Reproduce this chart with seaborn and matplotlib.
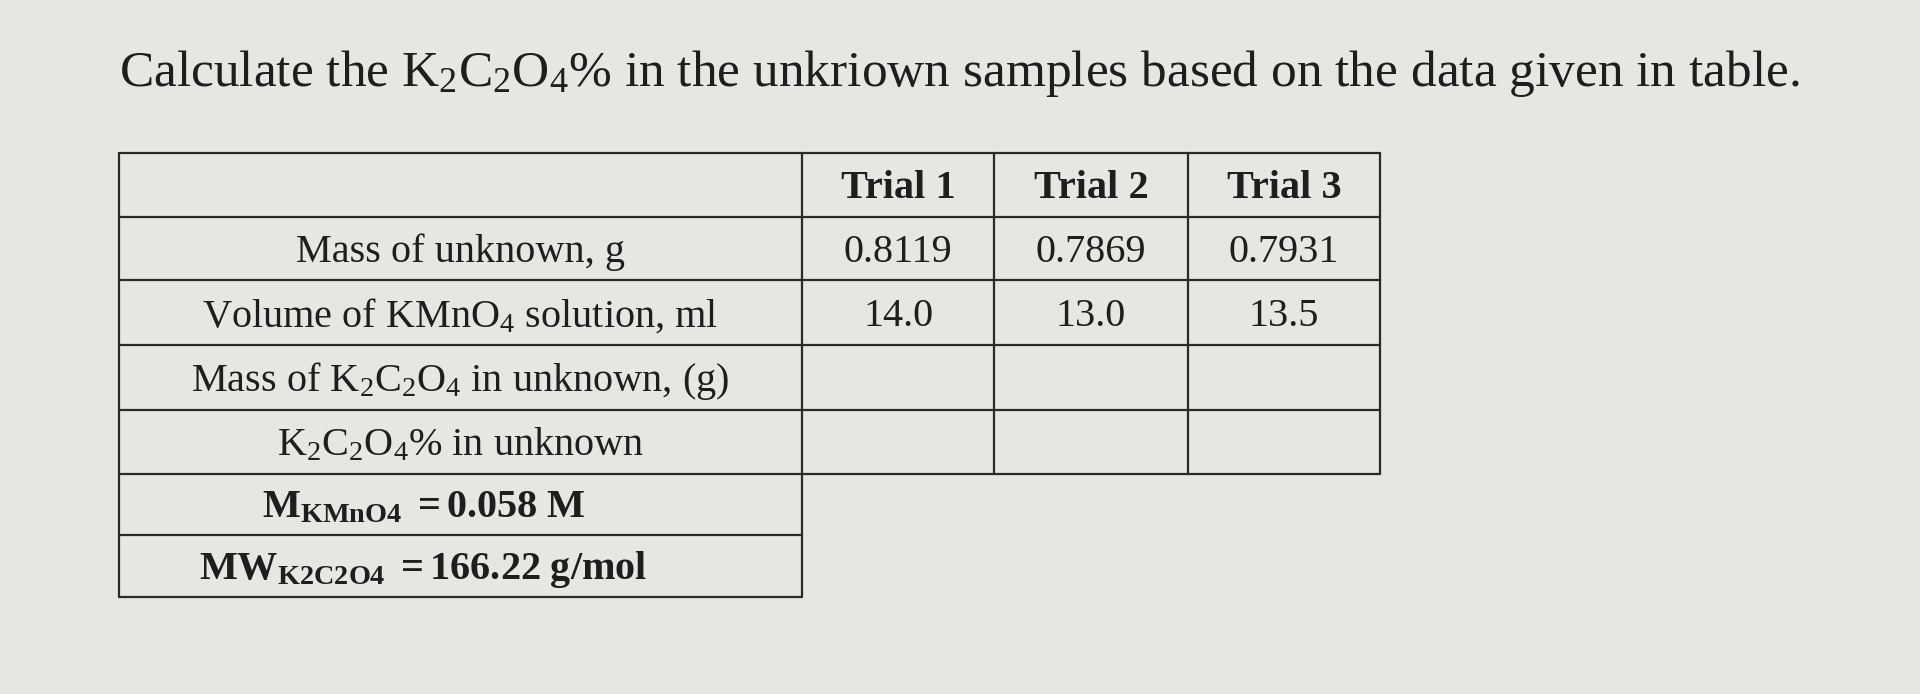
import matplotlib
matplotlib.use("Agg")
import matplotlib.pyplot as plt
import seaborn as sns

sns.set_theme(style="white")
plt.rcParams["font.family"] = ["Liberation Serif", "DejaVu Serif"]
plt.rcParams["mathtext.fontset"] = "custom"
plt.rcParams["mathtext.rm"] = "Liberation Serif"
plt.rcParams["mathtext.it"] = "Liberation Serif:italic"
plt.rcParams["mathtext.bf"] = "Liberation Serif:bold"

# ─── Data ──────────────────────────────────────────────────────────────────
title = r"Calculate the K$_2$C$_2$O$_4$% in the unkriown samples based on the data given in table."
trials = ["Trial 1", "Trial 2", "Trial 3"]
row_labels = [
    "Mass of unknown, g",
    r"Volume of KMnO$_4$ solution, ml",
    r"Mass of K$_2$C$_2$O$_4$ in unknown, (g)",
    r"K$_2$C$_2$O$_4$% in unknown",
]
mass_unknown = ["0.8119", "0.7869", "0.7931"]
volume_kmno4 = ["14.0", "13.0", "13.5"]
constants = [r"$\mathbf{M}_{\mathbf{KMnO4}}$ $\mathbf{= 0.058\ M}$",
             r"$\mathbf{MW}_{\mathbf{K2C2O4}}$ $\mathbf{= 166.22\ g/mol}$"]

# ─── Layout (pixel units of the photo) ─────────────────────────────────────
W, H = 1568, 567
col_x = [97, 655, 812, 970, 1127]
row_y = [125, 177, 229, 282, 335, 387, 437, 488]

fig = plt.figure(figsize=(19.2, 6.94), dpi=100)
fig.patch.set_facecolor("#e6e6e3")
ax = fig.add_axes([0, 0, 1, 1])
ax.set_facecolor("#e6e6e3")
ax.set_xlim(0, W)
ax.set_ylim(H, 0)
ax.axis("off")

lc = "#2a2a2a"
lw = 1.6
tc = "#1e1e1e"
ax.text(97, 60, title, fontsize=37, color=tc, va="center", ha="left")

# horizontal lines
for i, y in enumerate(row_y):
    x_end = col_x[-1] if i <= 5 else col_x[1]
    ax.plot([col_x[0], x_end], [y, y], color=lc, lw=lw)
# vertical lines
ax.plot([col_x[0], col_x[0]], [row_y[0], row_y[-1]], color=lc, lw=lw)
ax.plot([col_x[1], col_x[1]], [row_y[0], row_y[-1]], color=lc, lw=lw)
for x in col_x[2:]:
    ax.plot([x, x], [row_y[0], row_y[5]], color=lc, lw=lw)

def cy(i):
    return (row_y[i] + row_y[i + 1]) / 2 + 3

c0 = (col_x[0] + col_x[1]) / 2
fs = 29
for j, t in enumerate(trials):
    cx = (col_x[j + 1] + col_x[j + 2]) / 2
    ax.text(cx, cy(0), t, fontsize=fs, ha="center", va="center", color=tc, fontweight="bold")
    ax.text(cx, cy(1), mass_unknown[j], fontsize=fs, ha="center", va="center", color=tc)
    ax.text(cx, cy(2), volume_kmno4[j], fontsize=fs, ha="center", va="center", color=tc)

for i, lab in enumerate(row_labels):
    ax.text(c0, cy(i + 1), lab, fontsize=fs, ha="center", va="center", color=tc)
for i, lab in enumerate(constants):
    ax.text(c0 - 30, cy(i + 5), lab, fontsize=fs, ha="center", va="center", color=tc)

fig.savefig("out.png", dpi=100, facecolor=fig.get_facecolor())
